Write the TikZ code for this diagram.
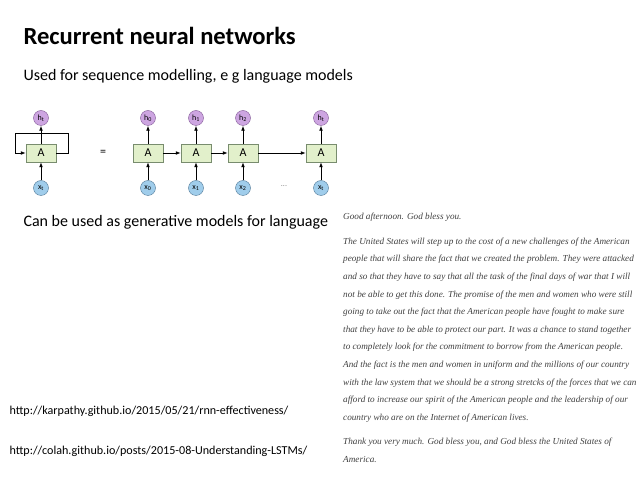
\documentclass[tikz,border=0pt]{standalone}
\usepackage{fontspec}
\setmainfont{Carlito}
\newfontfamily\speechfont{Liberation Serif}
\usetikzlibrary{arrows.meta, positioning}

\definecolor{cellgreen}{RGB}{226,240,203}
\definecolor{cellborder}{RGB}{120,140,110}
\definecolor{hpurple}{RGB}{205,165,225}
\definecolor{hborder}{RGB}{130,90,150}
\definecolor{xblue}{RGB}{160,205,235}
\definecolor{xborder}{RGB}{80,120,150}

\begin{document}
\begin{tikzpicture}[x=1pt, y=-1pt,
        cell/.style={draw=cellborder, fill=cellgreen, minimum width=30pt, minimum height=18pt, inner sep=0pt, font=\large},
        hout/.style={circle, draw=hborder, fill=hpurple, minimum size=15pt, inner sep=0pt, font=\footnotesize},
        xin/.style={circle, draw=xborder, fill=xblue, minimum size=15pt, inner sep=0pt, font=\footnotesize},
        link/.style={thick, -{Latex[length=5pt]}},
        every node/.style={anchor=center}
    ]
    \useasboundingbox (0,0) rectangle (638,478);

    % Titles
    \node[anchor=west, font=\fontsize{24.6}{28}\selectfont\bfseries] (title) at (20,36) {Recurrent neural networks};
    \node[anchor=west, font=\fontsize{16}{19}\selectfont] (sub) at (20,76) {Used for sequence modelling, e g language models};

    % Folded network
    \node[cell] (A) at (41,153) {A};
    \node[hout] (h) at (41,118) {h\textsubscript{t}};
    \node[xin] (x) at (41,188) {x\textsubscript{t}};
    \draw[link] (x) -- (A);
    \draw[link] (A) -- (h);
    \draw[link] (A.east) -- ++(12,0) -- ++(0,-20) -- ++(-53,0) |- (A.west);
    \node[font=\large] (eq) at (103,153) {=};

    % Unrolled network
    \foreach \n/\px/\lab in {0/148/0, 1/196/1, 2/243/2, 3/321/t} {
        \node[cell] (A\n) at (\px,153) {A};
        \node[hout] (h\n) at (\px,118) {h\textsubscript{\lab}};
        \node[xin] (x\n) at (\px,188) {x\textsubscript{\lab}};
        \draw[link] (x\n) -- (A\n);
        \draw[link] (A\n) -- (h\n);
    }
    \draw[link] (A0) -- (A1);
    \draw[link] (A1) -- (A2);
    \draw[link] (A2) -- (A3);
    \node[font=\footnotesize, text=gray] (dots) at (284,186) {...};

    % Generated text
    \node[anchor=west, font=\fontsize{16}{19}\selectfont] (gen) at (20,222) {Can be used as generative models for language};
    \node[anchor=north west, inner sep=0pt, text=black!75, align=left,
          font=\speechfont\itshape\fontsize{9.2}{17.6}\selectfont] (speech) at (343,213) {%
        Good afternoon. God bless you.\\[7pt]
        The United States will step up to the cost of a new challenges of the American\\
        people that will share the fact that we created the problem. They were attacked\\
        and so that they have to say that all the task of the final days of war that I will\\
        not be able to get this done. The promise of the men and women who were still\\
        going to take out the fact that the American people have fought to make sure\\
        that they have to be able to protect our part. It was a chance to stand together\\
        to completely look for the commitment to borrow from the American people.\\
        And the fact is the men and women in uniform and the millions of our country\\
        with the law system that we should be a strong stretcks of the forces that we can\\
        afford to increase our spirit of the American people and the leadership of our\\
        country who are on the Internet of American lives.\\[7pt]
        Thank you very much. God bless you, and God bless the United States of\\
        America.};

    % Sources
    \node[anchor=west, font=\fontsize{12.1}{14}\selectfont] (src1) at (6,411) {http://karpathy.github.io/2015/05/21/rnn-effectiveness/};
    \node[anchor=west, font=\fontsize{12.1}{14}\selectfont] (src2) at (6,451) {http://colah.github.io/posts/2015-08-Understanding-LSTMs/};
\end{tikzpicture}
\end{document}
